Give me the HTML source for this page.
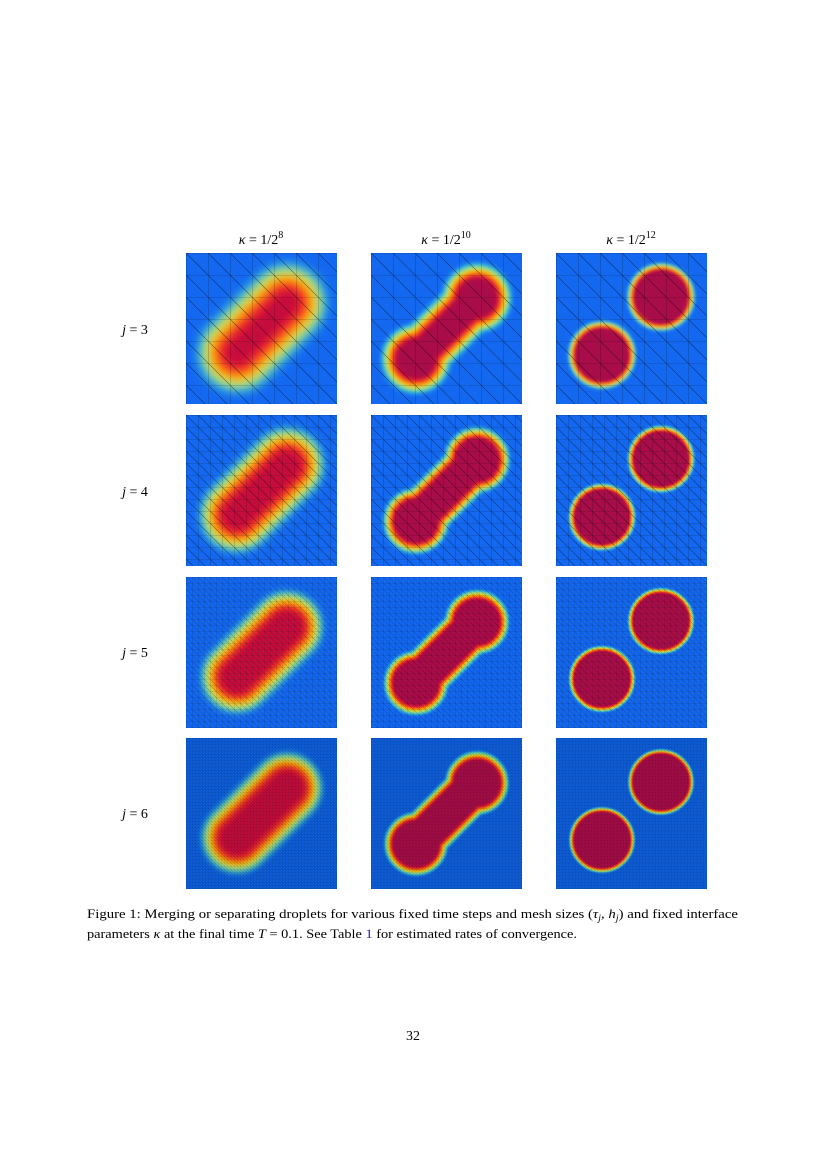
<!DOCTYPE html>
<html><head><meta charset="utf-8"><style>
body{margin:0;background:#fff;width:827px;height:1169px;overflow:hidden;font-family:"Liberation Serif",serif;}
</style></head><body>
<svg id="s" width="827" height="1169" xmlns="http://www.w3.org/2000/svg" style="position:absolute;left:0;top:0">
<defs></defs>
<g font-family="Liberation Serif, serif" font-size="14" fill="#000">
<text x="261" y="244" text-anchor="middle"><tspan font-style="italic">κ</tspan> = 1/2<tspan dy="-6" font-size="10">8</tspan></text>
<text x="446" y="244" text-anchor="middle"><tspan font-style="italic">κ</tspan> = 1/2<tspan dy="-6" font-size="10">10</tspan></text>
<text x="631" y="244" text-anchor="middle"><tspan font-style="italic">κ</tspan> = 1/2<tspan dy="-6" font-size="10">12</tspan></text>
<text x="135" y="334" text-anchor="middle"><tspan font-style="italic">j</tspan> = 3</text>
<text x="135" y="496" text-anchor="middle"><tspan font-style="italic">j</tspan> = 4</text>
<text x="135" y="657" text-anchor="middle"><tspan font-style="italic">j</tspan> = 5</text>
<text x="135" y="818" text-anchor="middle"><tspan font-style="italic">j</tspan> = 6</text>
</g>
<g font-family="Liberation Serif, serif" font-size="13" fill="#000">
<text x="87" y="918" textLength="651" lengthAdjust="spacingAndGlyphs">Figure 1: Merging or separating droplets for various fixed time steps and mesh sizes (<tspan font-style="italic">τ<tspan font-size="9" dy="3">j</tspan><tspan dy="-3">, h</tspan><tspan font-size="9" dy="3">j</tspan></tspan><tspan dy="-3">) and fixed interface</tspan></text>
<text x="87" y="938" textLength="490" lengthAdjust="spacingAndGlyphs">parameters <tspan font-style="italic">κ</tspan> at the final time <tspan font-style="italic">T</tspan> = 0.1. See Table <tspan fill="#2020c0">1</tspan> for estimated rates of convergence.</text>
<text x="413" y="1040" text-anchor="middle" font-size="14">32</text>
</g>
</svg>
<script>
var s=document.getElementById('s'),defs=s.querySelector('defs');
var cols=[186,371,556],rows=[253,415,577,738];
var html='';var d='';
var sp=[22,12,6,3.2];
for(var r=0;r<4;r++){
 d+='<pattern id="m'+r+'" width="'+sp[r]+'" height="'+sp[r]+'" patternUnits="userSpaceOnUse"><path d="M0 0L'+sp[r]+' '+sp[r]+'M0 0H'+sp[r]+'M0 0V'+sp[r]+'" stroke="#000" stroke-width="'+(r<2?0.6:0.4)+'" fill="none"/></pattern>';
 for(var c=0;c<3;c++){
  var b=[[5,2.5,1.5],[4,1.8,1.1],[3.3,1.3,0.9],[3,1.1,0.8]][r][c];
  d+='<filter id="f'+r+c+'" filterUnits="userSpaceOnUse" x="-50" y="-50" width="251" height="251"><feGaussianBlur stdDeviation="'+b+'"/></filter>';
 }
}
d+='<clipPath id="cp"><rect width="151" height="151"/></clipPath>';
defs.innerHTML=d;
var layers=[[12,'#30c8e0'],[7,'#70e040'],[3,'#f0f000'],[0,'#ff9000'],[-4,'#ff2a10'],[-9,'#c4103c'],[-14,'#a80e48']];
var layers1=[[14,'#30c8e0'],[9,'#70e040'],[4,'#f0f000'],[0,'#ff9000'],[-5,'#ff3010'],[-11,'#e01830'],[-18,'#c4103c']];
function shape(c,off,sc){
 var o='';
 if(c==0){var R=27+off*sc;if(R<1)return '';o+='<line x1="51" y1="100" x2="101" y2="50" stroke-linecap="round" stroke-width="'+2*R+'"/>';}
 else if(c==1){var R=27+off*sc,n=21+off*sc;if(R<1)return '';o+='<circle cx="45" cy="106" r="'+R+'"/><circle cx="106" cy="45" r="'+R+'"/>';if(n>0)o+='<line x1="45" y1="106" x2="106" y2="45" stroke-linecap="round" stroke-width="'+2*n+'"/>';}
 else{var R=30+off*sc;if(R<1)return '';o+='<circle cx="46" cy="102" r="'+R+'"/><circle cx="105" cy="44" r="'+R+'"/>';}
 return o;
}
for(var r=0;r<4;r++)for(var c=0;c<3;c++){
 var sc=[[0.9,0.6,0.3],[0.75,0.45,0.25],[0.65,0.38,0.22],[0.6,0.35,0.2]][r][c];
 var g='<g transform="translate('+cols[c]+','+rows[r]+')" clip-path="url(#cp)"><rect width="151" height="151" fill="'+(r==3?'#0e60e0':'#1468f0')+'"/><g filter="url(#f'+r+c+')">';
 var Ls=c==0?layers1:layers;
 for(var i=0;i<Ls.length;i++){var L=Ls[i];g+='<g fill="'+L[1]+'" stroke="'+L[1]+'">'+shape(c,L[0],sc)+'</g>';}
 g+='</g><rect width="151" height="151" fill="url(#m'+r+')" opacity="'+[0.55,0.5,0.45,0.4][r]+'"/></g>';
 html+=g;
}
s.insertAdjacentHTML('beforeend',html);
</script>
</body></html>
